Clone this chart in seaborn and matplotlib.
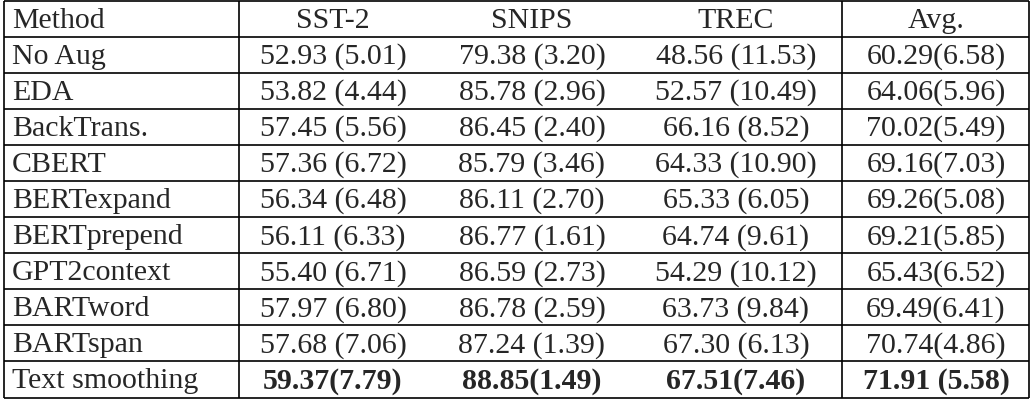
import matplotlib
matplotlib.use("Agg")
import matplotlib.pyplot as plt
import seaborn as sns

columns = ["Method", "SST-2", "SNIPS", "TREC", "Avg."]
methods = ["No Aug", "EDA", "BackTrans.", "CBERT", "BERTexpand", "BERTprepend",
           "GPT2context", "BARTword", "BARTspan", "Text smoothing"]
sst2 = ["52.93 (5.01)", "53.82 (4.44)", "57.45 (5.56)", "57.36 (6.72)", "56.34 (6.48)",
        "56.11 (6.33)", "55.40 (6.71)", "57.97 (6.80)", "57.68 (7.06)", "59.37(7.79)"]
snips = ["79.38 (3.20)", "85.78 (2.96)", "86.45 (2.40)", "85.79 (3.46)", "86.11 (2.70)",
         "86.77 (1.61)", "86.59 (2.73)", "86.78 (2.59)", "87.24 (1.39)", "88.85(1.49)"]
trec = ["48.56 (11.53)", "52.57 (10.49)", "66.16 (8.52)", "64.33 (10.90)", "65.33 (6.05)",
        "64.74 (9.61)", "54.29 (10.12)", "63.73 (9.84)", "67.30 (6.13)", "67.51(7.46)"]
avg = ["60.29(6.58)", "64.06(5.96)", "70.02(5.49)", "69.16(7.03)", "69.26(5.08)",
       "69.21(5.85)", "65.43(6.52)", "69.49(6.41)", "70.74(4.86)", "71.91 (5.58)"]
bold_rows = ["Text smoothing"]

sns.set_style("white")
plt.rcParams["font.family"] = ["Liberation Serif", "DejaVu Serif"]

W, H = 1033, 402
fig = plt.figure(figsize=(W / 100, H / 100), dpi=100)
ax = fig.add_axes([0, 0, 1, 1])
ax.set_xlim(0, W)
ax.set_ylim(H, 0)
ax.axis("off")

left, right = 4, 1029
vlines = [left, 239, 842, right]
col_cx = [None, 333, 532, 736, 936]
top, bottom = 1.5, 398.5
n_rows = len(methods) + 1
row_h = (bottom - top) / n_rows
row_y = [top + i * row_h for i in range(n_rows + 1)]

ax.hlines(row_y, left, right, color="black", lw=1.2)
ax.vlines(vlines, top, bottom, color="black", lw=1.2)

fs = 21.5
def put(r, c, s, bold=False):
    y = (row_y[r] + row_y[r + 1]) / 2 + 1
    if c == 0:
        ax.text(12, y, s, ha="left", va="center", fontsize=fs)
    else:
        ax.text(col_cx[c], y, s, ha="center", va="center", fontsize=fs,
                fontweight="bold" if bold else "normal")

for c, name in enumerate(columns):
    put(0, c, name)
for i, m in enumerate(methods):
    b = m in bold_rows
    put(i + 1, 0, m)
    for c, vals in enumerate([sst2, snips, trec, avg], start=1):
        put(i + 1, c, vals[i], bold=b)

fig.savefig("out.png", dpi=100)
